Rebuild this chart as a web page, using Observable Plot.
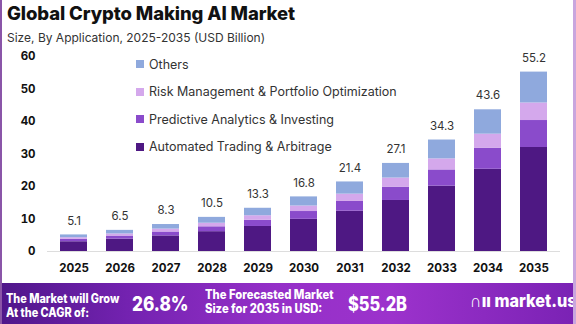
<!DOCTYPE html>
<html>
<head>
<meta charset="utf-8">
<script src="https://cdn.jsdelivr.net/npm/d3@7"></script>
<script src="https://cdn.jsdelivr.net/npm/@observablehq/plot@0.6"></script>
<style>
  html, body { margin: 0; padding: 0; background: #fff; }
  body { width: 576px; height: 324px; position: relative; overflow: hidden; font-family: Inter, "Open Sans", sans-serif; }
  #title { position: absolute; left: 7px; top: 2px; font-size: 18.5px; font-weight: 800; color: #111; letter-spacing: -0.1px; white-space: nowrap; }
  #subtitle { position: absolute; left: 7px; top: 30px; font-size: 12px; color: #333; white-space: nowrap; }
  #chart { position: absolute; left: 0; top: 45px; }
  #legend { position: absolute; left: 136px; top: 57px; font-size: 12.5px; color: #333; }
  .lg { display: flex; align-items: center; height: 14px; margin-bottom: 13.5px; white-space: nowrap; }
  .sw { width: 8px; height: 8px; margin-right: 5px; }
  #footer { position: absolute; left: 0; top: 283px; width: 576px; height: 41px;
    background: linear-gradient(90deg, #4f168a 0%, #7322b0 22%, #9530c8 48%, #9c32cc 68%, #7a22b4 100%); color: #fff; }
  .ft { position: absolute; font-weight: 800; white-space: nowrap; transform-origin: left center; }
  #bl { position: absolute; left: 0; top: 0; width: 2px; height: 324px; background: #8a55a8; }
  #br { position: absolute; right: 0; top: 0; width: 3px; height: 324px; background: #c9a6de; }
</style>
</head>
<body>
<div id="title"></div>
<div id="subtitle"></div>
<div id="chart"></div>
<div id="legend"></div>
<div id="footer">
  <div class="ft" id="f1" style="left:6px; top:9px; font-size:12.5px; line-height:14px; transform:scaleX(0.87);"></div>
  <div class="ft" id="cagr" style="left:132px; top:8px; font-size:20px; line-height:26px; transform:scaleX(0.86);"></div>
  <div class="ft" id="f2" style="left:205px; top:5px; font-size:12.5px; line-height:14px; transform:scaleX(0.9);"></div>
  <div class="ft" id="size" style="left:348px; top:8px; font-size:20px; line-height:26px; transform:scaleX(0.82);"></div>
  <div class="ft" id="logo" style="left:470px; top:6px; font-size:18px; line-height:24px; transform:scaleX(0.9);"></div>
</div>
<div id="bl"></div>
<div id="br"></div>
<script>
const titleText = "Global Crypto Making AI Market";
const subtitleText = "Size, By Application, 2025-2035 (USD Billion)";
const footerLeft = ["The Market will Grow", "At the CAGR of:"];
const footerMid = ["The Forecasted Market", "Size for 2035 in USD:"];
const cagrText = "26.8%";
const sizeText = "$55.2B";
const logoText = "\u2229\u0131\u0131 market.us";

const years = ["2025","2026","2027","2028","2029","2030","2031","2032","2033","2034","2035"];
const totals = [5.1, 6.5, 8.3, 10.5, 13.3, 16.8, 21.4, 27.1, 34.3, 43.6, 55.2];
const automated = [3.0, 3.8, 4.8, 6.1, 7.7, 9.9, 12.4, 15.7, 20.1, 25.3, 32.0];
const predictive = [0.75, 0.95, 1.2, 1.5, 1.9, 2.4, 3.0, 4.1, 5.0, 6.5, 8.3];
const risk = [0.5, 0.65, 0.9, 1.1, 1.4, 1.7, 2.25, 2.8, 3.4, 4.3, 5.4];
const others = [0.85, 1.1, 1.4, 1.8, 2.3, 2.8, 3.75, 4.5, 5.8, 7.5, 9.5];
const seriesNames = ["Automated Trading & Arbitrage", "Predictive Analytics & Investing", "Risk Management & Portfolio Optimization", "Others"];
const seriesColors = ["#4e1883", "#8a4bcb", "#d4a8ec", "#8fa9dd"];
const yTicks = [0, 10, 20, 30, 40, 50, 60];

document.getElementById("title").textContent = titleText;
document.getElementById("subtitle").textContent = subtitleText;
document.getElementById("f1").innerHTML = footerLeft.join("<br>");
document.getElementById("f2").innerHTML = footerMid.join("<br>");
document.getElementById("cagr").textContent = cagrText;
document.getElementById("size").textContent = sizeText;
document.getElementById("logo").textContent = logoText;

const seriesValues = [automated, predictive, risk, others];
const rows = [];
seriesNames.forEach((s, i) => years.forEach((y, j) => rows.push({year: y, series: s, value: seriesValues[i][j]})));
const totalRows = years.map((y, j) => ({year: y, total: totals[j]}));

const plot = Plot.plot({
  width: 576,
  height: 237,
  marginLeft: 47,
  marginRight: 16,
  marginTop: 11,
  marginBottom: 31,
  style: { fontFamily: "Inter, 'Open Sans', sans-serif", background: "transparent" },
  x: { domain: years, paddingInner: 0.42, paddingOuter: 0.21, label: null },
  y: { domain: [0, 60], label: null },
  color: { domain: seriesNames, range: seriesColors },
  marks: [
    Plot.ruleY([0], { stroke: "#dddddd", strokeWidth: 1 }),
    Plot.barY(rows, { x: "year", y: "value", fill: "series", order: seriesNames }),
    Plot.text(totalRows, { x: "year", y: "total", text: d => d.total.toFixed(1), dy: -14, fontSize: 11.5, fill: "#333" }),
    Plot.axisY({ ticks: yTicks, tickSize: 0, tickPadding: 12, fontSize: 11.5, fontWeight: 700, fill: "#111", label: null }),
    Plot.axisX({ tickSize: 0, tickPadding: 12, fontSize: 11.5, fontWeight: 700, fill: "#111", label: null })
  ]
});
document.getElementById("chart").appendChild(plot);

const legend = document.getElementById("legend");
[...seriesNames].reverse().forEach(name => {
  const i = seriesNames.indexOf(name);
  const row = document.createElement("div");
  row.className = "lg";
  const sw = document.createElement("div");
  sw.className = "sw";
  sw.style.background = seriesColors[i];
  const t = document.createElement("span");
  t.textContent = name;
  row.appendChild(sw); row.appendChild(t);
  legend.appendChild(row);
});
</script>
</body>
</html>
